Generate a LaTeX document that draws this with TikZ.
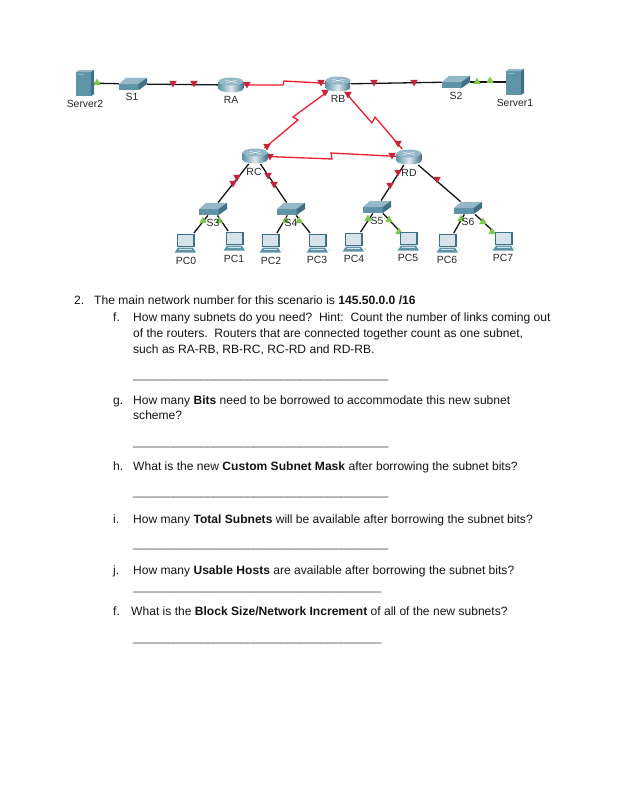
\documentclass[tikz,border=0pt]{standalone}
\usepackage{fontspec}
\setmainfont{Liberation Sans}
\usepackage{xcolor}
\usetikzlibrary{positioning,shapes.geometric,backgrounds}
\definecolor{netred}{HTML}{EE1C2E}
\definecolor{markred}{HTML}{C4243C}
\definecolor{markgreen}{HTML}{7CC84A}
\definecolor{steel}{HTML}{5F93A8}
\definecolor{steeldark}{HTML}{3F7086}
\definecolor{steellight}{HTML}{94B8C7}
\definecolor{screen}{HTML}{D6E3EA}
\definecolor{inkline}{HTML}{141414}
\newcommand{\routerdraw}{%
  \begin{scope}[shift={(path picture bounding box.center)}]
    \shade[left color=steel, right color=steeldark, middle color=screen!80!white]
      (-12.5,-3.5) -- (-12.5,3.5) arc[start angle=180, end angle=0, x radius=12.5, y radius=4] -- (12.5,-3.5) -- cycle;
    \fill[steellight] (0,-3.5) ellipse[x radius=12.5, y radius=4];
    \draw[white, line width=0.35pt] (-6,-5) -- (6,-2) (-6,-2) -- (6,-5);
  \end{scope}}
\newcommand{\switchdraw}{%
  \begin{scope}[shift={(path picture bounding box.center)}]
    \fill[steel] (-14,0) rectangle (5.5,6.2);
    \fill[steellight] (-14,0) -- (-7,-6.2) -- (14,-6.2) -- (5.5,0) -- cycle;
    \fill[steeldark] (5.5,0) -- (14,-6.2) -- (14,0) -- (5.5,6.2) -- cycle;
  \end{scope}}
\newcommand{\serverdraw}{%
  \begin{scope}[shift={(path picture bounding box.center)}]
    \fill[steel] (-9,-11) rectangle (6,13);
    \fill[steellight] (-9,-11) -- (-6,-13) -- (9,-13) -- (6,-11) -- cycle;
    \fill[steeldark] (6,-11) -- (9,-13) -- (9,11) -- (6,13) -- cycle;
    \fill[steellight] (-7,-9.5) rectangle (-1.5,-8);
  \end{scope}}
\newcommand{\pcdraw}{%
  \begin{scope}[shift={(path picture bounding box.center)}]
    \fill[steeldark] (-9,-9.5) rectangle (8.5,3.8);
    \fill[screen] (-7.7,-8) rectangle (7,2.5);
    \fill[steel] (-11.5,9.5) -- (-8,4.6) -- (7,4.6) -- (10,9.5) -- cycle;
    \fill[screen] (-7,5.6) rectangle (6,6.6);
    \fill[screen] (11,7) circle (1.1);
  \end{scope}}
\tikzset{
  router/.style={inner sep=0pt, minimum width=25pt, minimum height=15.5pt, path picture={\routerdraw}},
  swbox/.style={inner sep=0pt, minimum width=28pt, minimum height=12.4pt, path picture={\switchdraw}},
  serverbox/.style={inner sep=0pt, minimum width=18pt, minimum height=26pt, path picture={\serverdraw}},
  pcbox/.style={inner sep=0pt, minimum width=24pt, minimum height=19.5pt, path picture={\pcdraw}},
  devlabel/.style={inner sep=0pt, font=\fontsize{10.4}{12}\selectfont, text=black!85},
  eth/.style={inkline, line width=1.3pt},
  serial/.style={netred, line width=1.3pt, line join=miter},
  redmark/.style={regular polygon, regular polygon sides=3, shape border rotate=180, fill=markred, inner sep=0pt, minimum size=8.8pt},
  greenmark/.style={regular polygon, regular polygon sides=3, fill=markgreen, inner sep=0pt, minimum size=8.8pt},
  para/.style={anchor=base west, inner sep=0pt, font=\fontsize{12.07}{14}\selectfont, text=black!92},
  blankline/.style={anchor=base west, inner sep=0pt, font=\fontsize{12.07}{14}\selectfont, text=black!70},
}
\begin{document}
\begin{tikzpicture}[x=1pt, y=-1pt]
  \useasboundingbox (0,0) rectangle (626,793);
  % devices
  \foreach \n/\x/\y in {ra/231/85, rb/338/84, rc/255/156, rd/409/157}
    \node[router] (\n) at (\x,\y) {};
  \foreach \n/\x/\y in {s1/133/84, s2/456/82, s3/213/209, s4/291/209, s5/377/207, s6/468/208}
    \node[swbox] (\n) at (\x,\y) {};
  \node[serverbox] (server2) at (85,83) {};
  \node[serverbox] (server1) at (515,82) {};
  \foreach \n/\x/\y in {pc0/186/243, pc1/235/241, pc2/271/243, pc3/318/243, pc4/354/242, pc5/409/241, pc6/448/243, pc7/504/241}
    \node[pcbox] (\n) at (\x,\y) {};
  % device names
  \foreach \n/\t/\x/\y in {a/Server2/85/104, b/S1/132/97, c/RA/231/100, d/RB/338/99, e/S2/456/96, f/Server1/515/103,
      g/RC/254/172, h/RD/409/173, i/S3/213/223, j/S4/291/223, k/S5/377/221, l/S6/468/222,
      m/PC0/186/261, n/PC1/234/259, o/PC2/271/261, p/PC3/317/260, q/PC4/354/259, r/PC5/408/258, s/PC6/447/260, t/PC7/503/258}
    \node[devlabel] (lab\n) at (\x,\y) {\t};
  \begin{scope}[on background layer]
    % links
    \foreach \a/\b in {server2/s1, s1/ra, rb/s2, s2/server1, rc/s3, rc/s4, rd/s5, rd/s6,
        s3/pc0, s3/pc1, s4/pc2, s4/pc3, s5/pc4, s5/pc5, s6/pc6, s6/pc7}
      \draw[eth] (\a) -- (\b);
    \coordinate (abz1) at (283,85);
    \coordinate (abz2) at (284,81);
    \coordinate (bcz1) at (298,120);
    \coordinate (bcz2) at (293,117);
    \coordinate (bdz1) at (372,123);
    \coordinate (bdz2) at (375,117);
    \coordinate (cdz1) at (332,159);
    \coordinate (cdz2) at (331,153);
    \draw[serial] (ra) -- (abz1) -- (abz2) -- (rb);
    \draw[serial] (rc) -- (bcz1) -- (bcz2) -- (rb);
    \draw[serial] (rb) -- (bdz1) -- (bdz2) -- (rd);
    \draw[serial] (rc) -- (cdz1) -- (cdz2) -- (rd);
    % link lights
    \foreach[count=\i] \x/\y in {173/83, 194/83, 247/84, 321/82, 325/92, 267/146, 270/156, 392/155, 348/94, 398/143,
        374/82, 414/82, 237/177, 233/183, 268/175, 274/184, 398/172, 390/185, 437/179}
      \node[redmark] (rl\i) at (\x,\y) {};
    \foreach[count=\i] \x/\y in {97/83, 477/82, 490/81, 203/221, 219/221, 286/221, 299/221, 368/219, 389/220, 399/232, 461/219, 483/222, 492/232}
      \node[greenmark] (gl\i) at (\x,\y) {};
  \end{scope}
  % questions
  \node[para] (q2n) at (74,304) {2.};
  \node[para] (q2) at (94,304) {The main network number for this scenario is \textbf{145.50.0.0 /16}};
  \node[para] (qfn) at (113,321) {f.};
  \node[para] (qfa) at (133,321) {How many subnets do you need?\ \ Hint:\ \ Count the number of links coming out};
  \node[para] (qfb) at (133,337) {of the routers.\ \ Routers that are connected together count as one subnet,};
  \node[para] (qfc) at (133,353) {such as RA-RB, RB-RC, RC-RD and RD-RB.};
  \node[blankline] (blf) at (133,378) {\foreach \k in {1,...,38}{\_}};
  \node[para] (qgn) at (113,404) {g.};
  \node[para] (qga) at (133,404) {How many \textbf{Bits} need to be borrowed to accommodate this new subnet};
  \node[para] (qgb) at (133,419) {scheme?};
  \node[blankline] (blg) at (133,445) {\foreach \k in {1,...,38}{\_}};
  \node[para] (qhn) at (113,470) {h.};
  \node[para] (qh) at (133,470) {What is the new \textbf{Custom Subnet Mask} after borrowing the subnet bits?};
  \node[blankline] (blh) at (133,495) {\foreach \k in {1,...,38}{\_}};
  \node[para] (qin) at (113,523) {i.};
  \node[para] (qi) at (133,523) {How many \textbf{Total Subnets} will be available after borrowing the subnet bits?};
  \node[blankline] (bli) at (133,547) {\foreach \k in {1,...,38}{\_}};
  \node[para] (qjn) at (113,574) {j.};
  \node[para] (qj) at (133,574) {How many \textbf{Usable Hosts} are available after borrowing the subnet bits?};
  \node[blankline] (blj) at (133,590) {\foreach \k in {1,...,37}{\_}};
  \node[para] (qkn) at (113,615) {f.};
  \node[para] (qk) at (131,615) {What is the \textbf{Block Size/Network Increment} of all of the new subnets?};
  \node[blankline] (blk) at (133,641) {\foreach \k in {1,...,37}{\_}};
\end{tikzpicture}
\end{document}
